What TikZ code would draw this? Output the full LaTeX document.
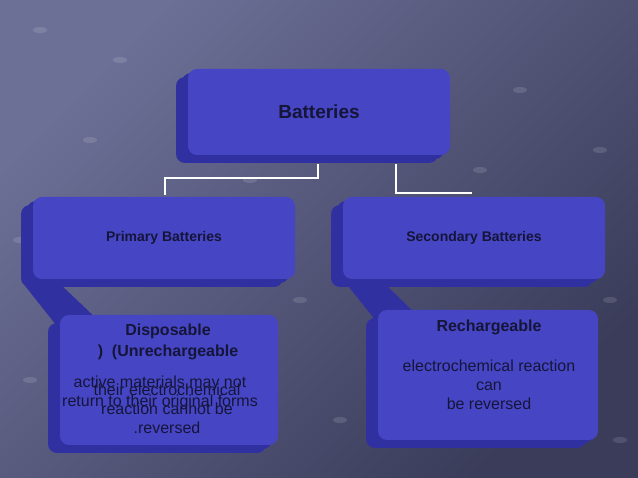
\documentclass[tikz,border=0pt]{standalone}
\usepackage{fontspec}
\setmainfont{Liberation Sans}
\usetikzlibrary{shadows}
\definecolor{bgA}{HTML}{6C7096}
\definecolor{bgB}{HTML}{3A3C5A}
\definecolor{face}{HTML}{4646C4}
\definecolor{side}{HTML}{3030A0}
\definecolor{txt}{HTML}{15153A}
\tikzset{
  box/.style={fill=face, rounded corners=9pt, text=txt, font=\bfseries\fontsize{19}{21}\selectfont, align=center,
    double copy shadow={shadow xshift=-6pt, shadow yshift=-4pt, fill=side, draw=none}},
  wire/.style={draw=white, line width=1.5pt},
  body/.style={text=txt, font=\fontsize{16}{19}\selectfont, align=center},
}
\begin{document}
\begin{tikzpicture}[x=1pt,y=-1pt]
\shade[left color=bgA, right color=bgB, shading angle=45] (0,0) rectangle (638,478);
\useasboundingbox (0,0) rectangle (638,478);
\foreach \p in {(40,30),(120,60),(520,90),(600,150),(560,250),(610,300),(30,380),(340,420),(620,440),(300,300),(250,180),(480,170),(90,140),(20,240)}
  \fill[white, opacity=0.12] \p ellipse (7 and 3);
% tails
\fill[side] (22,282) -- (60,284) -- (100,322) -- (60,330) -- cycle;
\fill[side] (345,282) -- (385,284) -- (420,318) -- (380,326) -- cycle;
\node[box, minimum width=262pt, minimum height=86pt] (bat) at (319,112) {Batteries};
\node[box, minimum width=262pt, minimum height=82pt, font=\bfseries\fontsize{14}{16}\selectfont] (prim) at (164,238) {Primary Batteries};
\node[box, minimum width=262pt, minimum height=82pt, font=\bfseries\fontsize{14}{16}\selectfont] (sec) at (474,238) {Secondary Batteries};
\node[box, minimum width=218pt, minimum height=130pt] (disp) at (169,380) {};
\node[box, minimum width=220pt, minimum height=130pt] (rech) at (488,375) {};
\draw[wire] (318,164) |- (165,178) -- (165,195);
\draw[wire] (396,164) |- (472,193);
\node[text=txt, font=\bfseries\fontsize{16}{21}\selectfont, align=center] at (168,342) {Disposable\\)\ \ (Unrechargeable};
\node[body] at (160,401) {active materials may not\\return to their original forms\\\phantom{x}};
\node[body] at (167,409) {their electrochemical\\reaction cannot be\\.reversed};
\node[text=txt, font=\bfseries\fontsize{16}{18}\selectfont] at (489,327) {Rechargeable};
\node[body] at (489,385) {electrochemical reaction\\can\\be reversed};
\end{tikzpicture}
\end{document}
